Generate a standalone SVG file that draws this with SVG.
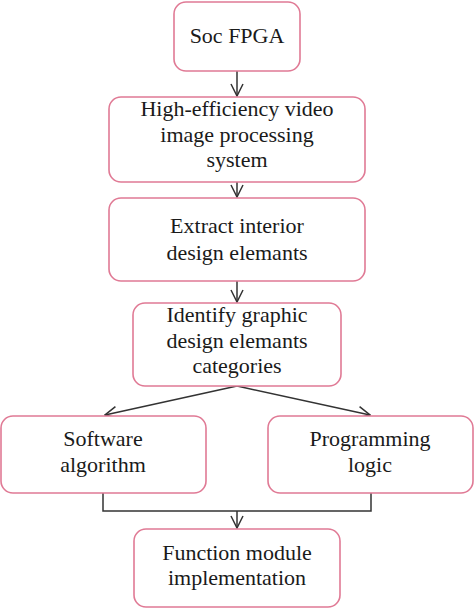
<svg xmlns="http://www.w3.org/2000/svg" width="474" height="609" viewBox="0 0 474 609">
<defs>
<style>
.box{fill:#fff;stroke:#e07a95;stroke-width:1.6}
.t{font-family:"Liberation Serif","Times New Roman",serif;font-size:22px;fill:#1a1a1a;text-anchor:middle}
.c{fill:none;stroke:#333;stroke-width:1.5}
</style>
<marker id="ah" viewBox="0 0 14 14" refX="13" refY="7" markerWidth="14" markerHeight="14" markerUnits="userSpaceOnUse" orient="auto">
<path d="M1,1 L13,7 L1,13" fill="none" stroke="#333" stroke-width="1.5"/>
</marker>
</defs>
<rect width="474" height="609" fill="#fff"/>
<g id="connectors">
<line class="c" x1="237" y1="71" x2="237" y2="96" marker-end="url(#ah)"/>
<line class="c" x1="237" y1="182" x2="237" y2="197" marker-end="url(#ah)"/>
<line class="c" x1="237" y1="281" x2="237" y2="302" marker-end="url(#ah)"/>
<line class="c" x1="237" y1="386" x2="105" y2="415" marker-end="url(#ah)"/>
<line class="c" x1="237" y1="386" x2="370" y2="415" marker-end="url(#ah)"/>
<polyline class="c" points="103,493 103,511 371,511 371,493"/>
<line class="c" x1="237" y1="511" x2="237" y2="528" marker-end="url(#ah)"/>
</g>
<g id="n1"><rect class="box" x="174" y="2" width="126" height="69" rx="12"/><text class="t" x="237" y="43">Soc FPGA</text></g>
<g id="n2"><rect class="box" x="109" y="97" width="256" height="85" rx="12"/><text class="t" x="237" y="116">High-efficiency video</text><text class="t" x="237" y="142">image processing</text><text class="t" x="237" y="167">system</text></g>
<g id="n3"><rect class="box" x="109" y="198" width="256" height="83" rx="12"/><text class="t" x="237" y="233">Extract interior</text><text class="t" x="237" y="260">design elemants</text></g>
<g id="n4"><rect class="box" x="133" y="303" width="208" height="83" rx="12"/><text class="t" x="237" y="322">Identify graphic</text><text class="t" x="237" y="348">design elemants</text><text class="t" x="237" y="373">categories</text></g>
<g id="n5"><rect class="box" x="1" y="416" width="205" height="77" rx="12"/><text class="t" x="103" y="446">Software</text><text class="t" x="103" y="472">algorithm</text></g>
<g id="n6"><rect class="box" x="268" y="416" width="205" height="77" rx="12"/><text class="t" x="370" y="446">Programming</text><text class="t" x="370" y="472">logic</text></g>
<g id="n7"><rect class="box" x="134" y="529" width="206" height="78" rx="12"/><text class="t" x="237" y="560">Function module</text><text class="t" x="237" y="585">implementation</text></g>
</svg>
